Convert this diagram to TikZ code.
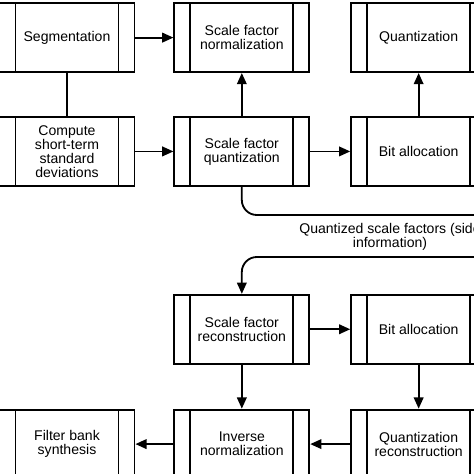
\documentclass[tikz,border=0pt]{standalone}
\usepackage{fontspec}
\setmainfont{Liberation Sans}
\usetikzlibrary{positioning, arrows.meta}

\tikzset{
  block/.style={draw, minimum width=3.375cm, minimum height=1.725cm, align=center, inner sep=0pt,
    path picture={
      \draw ([xshift=4mm]path picture bounding box.north west) -- ([xshift=4mm]path picture bounding box.south west);
      \draw ([xshift=-4mm]path picture bounding box.north east) -- ([xshift=-4mm]path picture bounding box.south east);
    }},
  arr/.style={-{Triangle[length=2.8mm,width=2.4mm]}}
}

\begin{document}
\begin{tikzpicture}[line width=1.3pt, font=\fontsize{10}{10}\selectfont]
\useasboundingbox (0,0) rectangle (11.85,-11.85);
% Encoder
\node[block] (seg) at (1.675,-0.94) {Segmentation};
\node[block, right=0.95cm of seg] (sfn) {Scale factor\\normalization};
\node[block, right=1cm of sfn] (quant) {Quantization};
\node[block, below=1.075cm of seg] (comp) {Compute\\short-term\\standard\\deviations};
\node[block, below=1.075cm of sfn] (sfq) {Scale factor\\quantization};
\node[block, below=1.075cm of quant] (bita) {Bit allocation};
% Decoder
\node[block, below=2.675cm of sfq] (sfr) {Scale factor\\reconstruction};
\node[block, right=1cm of sfr] (bitb) {Bit allocation};
\node[block, below=1.1cm of sfr] (inv) {Inverse\\normalization};
\node[block, left=0.95cm of inv] (fbs) {Filter bank\\synthesis};
\node[block, right=1cm of inv] (qrec) {Quantization\\reconstruction};
% Side information
\node[align=center] (side) at (9.75,-5.91) {Quantized scale factors (side\\information)};
\coordinate (sideout) at (12.3,-5.375);
\coordinate (sidein) at (12.3,-6.425);
% Connections
\draw[arr] (seg) -- (sfn);
\draw (seg) -- (comp);
\draw[arr] (comp) -- (sfq);
\draw[arr] (sfq) -- (sfn);
\draw[arr] (sfq) -- (bita);
\draw[arr] (bita) -- (quant);
\draw[rounded corners=0.375cm] (sfq.south) |- (sideout);
\draw[arr, rounded corners=0.375cm] (sidein) -| (sfr.north);
\draw[arr] (sfr) -- (bitb);
\draw[arr] (sfr) -- (inv);
\draw[arr] (bitb) -- (qrec);
\draw[arr] (qrec) -- (inv);
\draw[arr] (inv) -- (fbs);
\end{tikzpicture}
\end{document}
